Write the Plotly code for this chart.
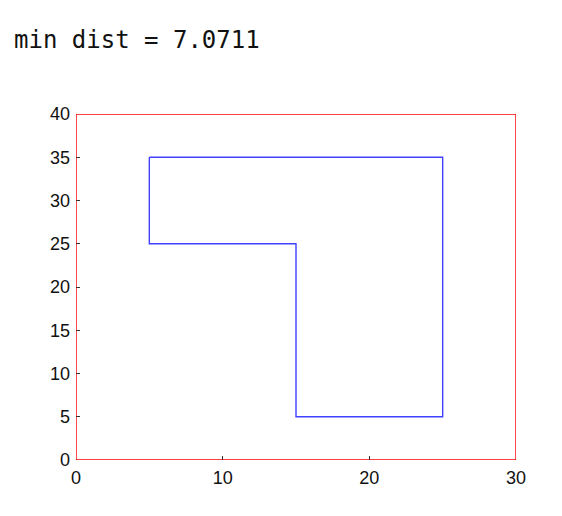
import plotly.graph_objects as go

title_text = "min dist = 7.0711"

box_x = [0, 30, 30, 0, 0]
box_y = [0, 0, 40, 40, 0]

poly_x = [5, 25, 25, 15, 15, 5, 5]
poly_y = [35, 35, 5, 5, 25, 25, 35]

x_ticks = [0, 10, 20, 30]
y_ticks = [0, 5, 10, 15, 20, 25, 30, 35, 40]

fig = go.Figure()
fig.add_trace(go.Scatter(x=box_x, y=box_y, mode="lines",
                         line=dict(color="#ff0000", width=1.4), hoverinfo="skip"))
fig.add_trace(go.Scatter(x=poly_x, y=poly_y, mode="lines",
                         line=dict(color="#4040ff", width=1.4), hoverinfo="skip"))

fig.add_annotation(text=title_text, xref="paper", yref="paper", x=-0.145, y=1.215,
                   xanchor="left", yanchor="middle", showarrow=False,
                   font=dict(family="DejaVu Sans Mono", size=24, color="#111111"))

axis_common = dict(showgrid=False, zeroline=False, showline=False,
                   ticks="inside", ticklen=4, tickcolor="#333333",
                   ticklabelstandoff=5,
                   tickfont=dict(family="Liberation Sans", size=18, color="#111111"))
fig.update_xaxes(range=[0, 30], tickvals=x_ticks, **axis_common)
fig.update_yaxes(range=[0, 40], tickvals=y_ticks, **axis_common)

fig.update_layout(width=562, height=516, showlegend=False,
                  plot_bgcolor="white", paper_bgcolor="white",
                  margin=dict(l=68, r=54, t=106, b=64))
fig.write_html("out.html")
